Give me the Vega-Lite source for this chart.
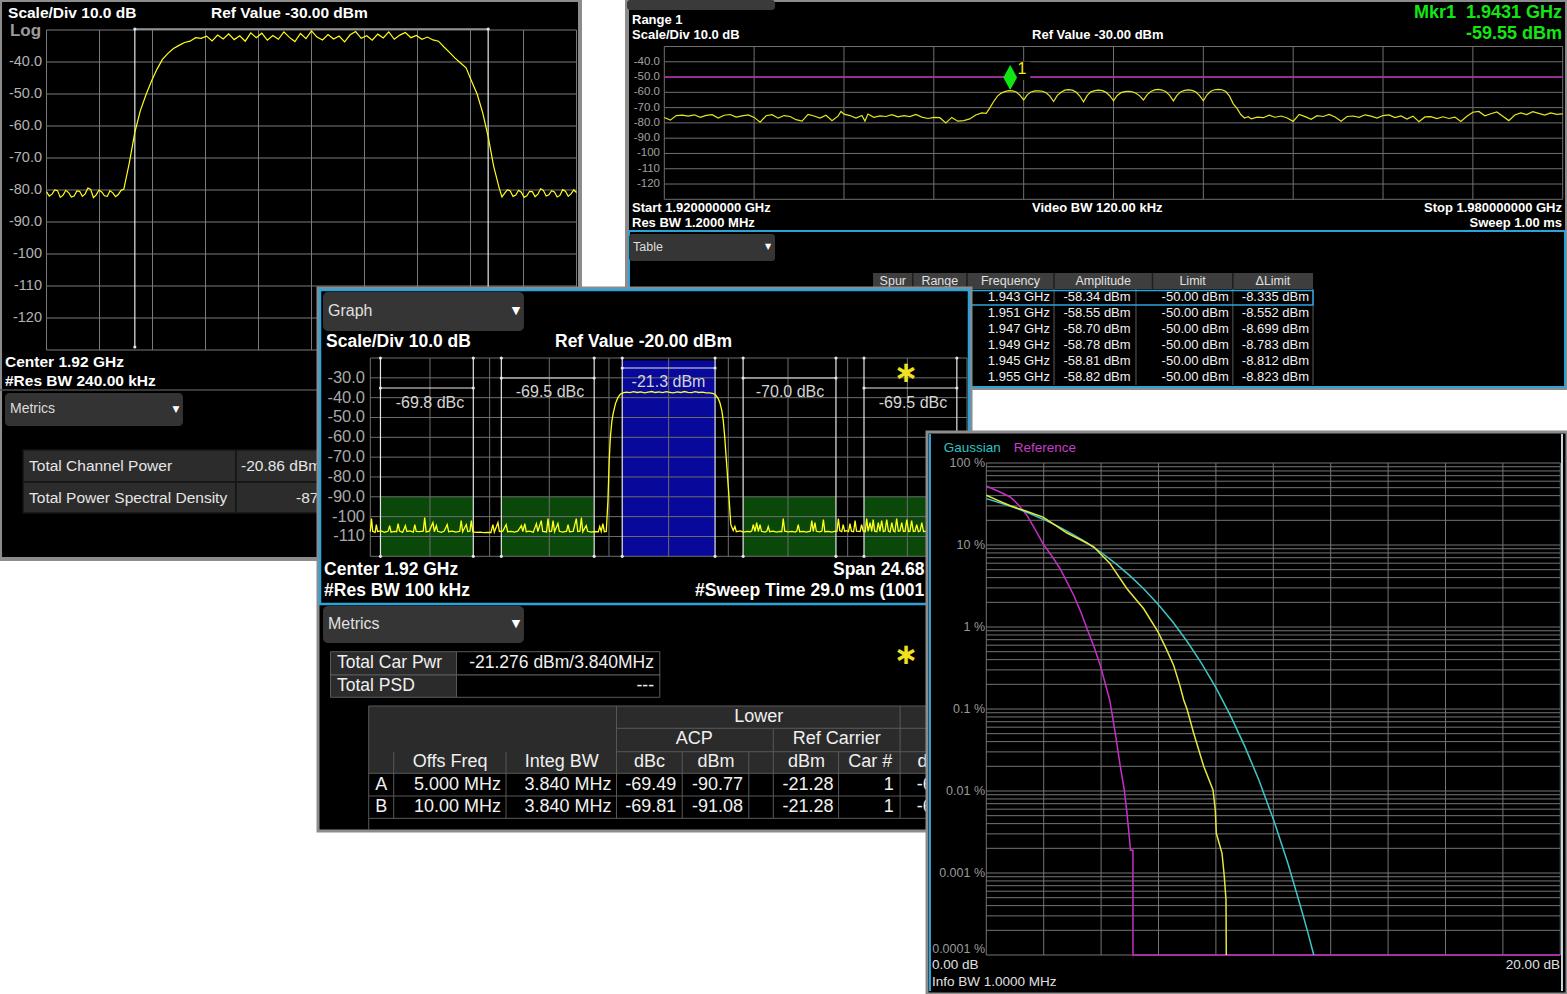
{
"$schema": "https://vega.github.io/schema/vega-lite/v6.json",
"width": 1567, "height": 994, "autosize": "none", "padding": 0,
"background": "#ffffff",
"config": {"view": {"stroke": null}, "text": {"font": "Liberation Sans"}},
"resolve": {"scale": {"x": "independent", "y": "independent"}},
"layer": [
{
 "encoding": {
  "x": {"field": "f", "type": "quantitative", "axis": null, "scale": {"domain": [1917.12, 1922.88], "range": [46.5, 576.5], "nice": false, "zero": false}},
  "y": {"field": "v", "type": "quantitative", "axis": null, "scale": {"domain": [-130, -30], "range": [350, 30], "nice": false, "zero": false}}
 },
 "layer": [
  {"data": {"values": [{"f": 1916.615, "f2": 1922.918, "v": -20.625, "v2": -195.3}]}, "mark": {"type": "rect", "fill": "#000000", "stroke": "#8c8c8c", "strokeWidth": 4}, "encoding": {"x2": {"field": "f2"}, "y2": {"field": "v2"}}},
  {"data": {"values": [{"f": 1916.615, "f2": 1920.9, "v": -142.5, "v2": -142.5}]}, "mark": {"type": "rule", "color": "#4d4d4d", "strokeWidth": 1.5}, "encoding": {"x2": {"field": "f2"}, "y2": {"field": "v2"}}},
  {"data": {"values": [
   {"f": 1917.12, "f2": 1922.88, "v": -30, "v2": -30}, {"f": 1917.12, "f2": 1922.88, "v": -40, "v2": -40}, {"f": 1917.12, "f2": 1922.88, "v": -50, "v2": -50}, {"f": 1917.12, "f2": 1922.88, "v": -60, "v2": -60}, {"f": 1917.12, "f2": 1922.88, "v": -70, "v2": -70}, {"f": 1917.12, "f2": 1922.88, "v": -80, "v2": -80}, {"f": 1917.12, "f2": 1922.88, "v": -90, "v2": -90}, {"f": 1917.12, "f2": 1922.88, "v": -100, "v2": -100}, {"f": 1917.12, "f2": 1922.88, "v": -110, "v2": -110}, {"f": 1917.12, "f2": 1922.88, "v": -120, "v2": -120}, {"f": 1917.12, "f2": 1922.88, "v": -130, "v2": -130},
   {"f": 1917.12, "f2": 1917.12, "v": -30, "v2": -130}, {"f": 1917.696, "f2": 1917.696, "v": -30, "v2": -130}, {"f": 1918.272, "f2": 1918.272, "v": -30, "v2": -130}, {"f": 1918.848, "f2": 1918.848, "v": -30, "v2": -130}, {"f": 1919.424, "f2": 1919.424, "v": -30, "v2": -130}, {"f": 1920.0, "f2": 1920.0, "v": -30, "v2": -130}, {"f": 1920.576, "f2": 1920.576, "v": -30, "v2": -130}, {"f": 1921.152, "f2": 1921.152, "v": -30, "v2": -130}, {"f": 1921.728, "f2": 1921.728, "v": -30, "v2": -130}, {"f": 1922.304, "f2": 1922.304, "v": -30, "v2": -130}, {"f": 1922.88, "f2": 1922.88, "v": -30, "v2": -130}
  ]}, "mark": {"type": "rule", "color": "#7a7a7a", "strokeWidth": 1}, "encoding": {"x2": {"field": "f2"}, "y2": {"field": "v2"}}},
  {"data": {"values": [{"f": 1918.08, "f2": 1918.08, "v": -29.69, "v2": -129.06}, {"f": 1921.92, "f2": 1921.92, "v": -29.69, "v2": -129.06}, {"f": 1918.08, "f2": 1921.92, "v": -29.69, "v2": -29.69}]}, "mark": {"type": "rule", "color": "#e8e8e8", "strokeWidth": 1.2}, "encoding": {"x2": {"field": "f2"}, "y2": {"field": "v2"}}},
  {"data": {"values": [{"f": 1918.08, "v": -29.69}, {"f": 1921.92, "v": -29.69}, {"f": 1918.08, "v": -129.06}, {"f": 1921.92, "v": -129.06}]}, "mark": {"type": "point", "filled": true, "size": 10, "color": "#e8e8e8", "opacity": 1}},
  {"data": {"values": [
   {"f": 1917.12, "v": -80.5}, {"f": 1917.15, "v": -81.9}, {"f": 1917.18, "v": -81.3}, {"f": 1917.21, "v": -80.0}, {"f": 1917.24, "v": -80.2}, {"f": 1917.27, "v": -82.3}, {"f": 1917.30, "v": -81.6}, {"f": 1917.33, "v": -80.1}, {"f": 1917.36, "v": -80.8}, {"f": 1917.39, "v": -82.2}, {"f": 1917.42, "v": -81.9}, {"f": 1917.45, "v": -80.3}, {"f": 1917.48, "v": -80.4}, {"f": 1917.51, "v": -82.0}, {"f": 1917.54, "v": -81.2}, {"f": 1917.57, "v": -79.4}, {"f": 1917.60, "v": -79.8}, {"f": 1917.63, "v": -82.4}, {"f": 1917.66, "v": -81.5}, {"f": 1917.69, "v": -80.0}, {"f": 1917.72, "v": -80.6}, {"f": 1917.75, "v": -81.8}, {"f": 1917.78, "v": -82.0}, {"f": 1917.81, "v": -80.2}, {"f": 1917.84, "v": -80.9}, {"f": 1917.87, "v": -82.1}, {"f": 1917.90, "v": -81.4}, {"f": 1917.93, "v": -80.1}, {"f": 1917.96, "v": -79.8}, {"f": 1918.02, "v": -71.5}, {"f": 1918.08, "v": -62.0}, {"f": 1918.14, "v": -55.2}, {"f": 1918.20, "v": -50.3}, {"f": 1918.26, "v": -46.0}, {"f": 1918.32, "v": -42.3}, {"f": 1918.38, "v": -39.2}, {"f": 1918.44, "v": -37.3}, {"f": 1918.50, "v": -35.8}, {"f": 1918.56, "v": -34.8}, {"f": 1918.62, "v": -33.9}, {"f": 1918.68, "v": -33.5}, {"f": 1918.74, "v": -32.4}, {"f": 1918.80, "v": -32.6}, {"f": 1918.86, "v": -31.9}, {"f": 1918.92, "v": -33.4}, {"f": 1918.98, "v": -31.6}, {"f": 1919.04, "v": -32.8}, {"f": 1919.10, "v": -31.2}, {"f": 1919.16, "v": -33.0}, {"f": 1919.22, "v": -31.8}, {"f": 1919.28, "v": -33.5}, {"f": 1919.34, "v": -30.9}, {"f": 1919.40, "v": -32.4}, {"f": 1919.46, "v": -31.0}, {"f": 1919.52, "v": -33.2}, {"f": 1919.58, "v": -31.7}, {"f": 1919.64, "v": -32.9}, {"f": 1919.70, "v": -30.6}, {"f": 1919.76, "v": -32.3}, {"f": 1919.82, "v": -33.6}, {"f": 1919.88, "v": -31.1}, {"f": 1919.94, "v": -32.7}, {"f": 1920.00, "v": -30.3}, {"f": 1920.06, "v": -32.2}, {"f": 1920.12, "v": -33.1}, {"f": 1920.18, "v": -31.4}, {"f": 1920.24, "v": -32.8}, {"f": 1920.30, "v": -31.9}, {"f": 1920.36, "v": -33.7}, {"f": 1920.42, "v": -31.5}, {"f": 1920.48, "v": -30.5}, {"f": 1920.54, "v": -32.6}, {"f": 1920.60, "v": -31.8}, {"f": 1920.66, "v": -33.2}, {"f": 1920.72, "v": -31.3}, {"f": 1920.78, "v": -32.5}, {"f": 1920.84, "v": -30.6}, {"f": 1920.90, "v": -32.9}, {"f": 1920.96, "v": -31.6}, {"f": 1921.02, "v": -30.8}, {"f": 1921.08, "v": -32.4}, {"f": 1921.14, "v": -31.7}, {"f": 1921.20, "v": -32.9}, {"f": 1921.26, "v": -32.2}, {"f": 1921.32, "v": -33.1}, {"f": 1921.38, "v": -33.5}, {"f": 1921.44, "v": -35.3}, {"f": 1921.50, "v": -37.0}, {"f": 1921.56, "v": -38.8}, {"f": 1921.62, "v": -40.3}, {"f": 1921.68, "v": -41.8}, {"f": 1921.74, "v": -46.0}, {"f": 1921.80, "v": -50.0}, {"f": 1921.86, "v": -55.8}, {"f": 1921.92, "v": -63.3}, {"f": 1921.98, "v": -72.6}, {"f": 1922.04, "v": -79.4}, {"f": 1922.07, "v": -82.2}, {"f": 1922.10, "v": -81.0}, {"f": 1922.13, "v": -79.9}, {"f": 1922.16, "v": -80.3}, {"f": 1922.19, "v": -82.0}, {"f": 1922.22, "v": -81.6}, {"f": 1922.25, "v": -80.1}, {"f": 1922.28, "v": -80.7}, {"f": 1922.31, "v": -82.3}, {"f": 1922.34, "v": -81.8}, {"f": 1922.37, "v": -80.4}, {"f": 1922.40, "v": -80.5}, {"f": 1922.43, "v": -82.1}, {"f": 1922.46, "v": -81.3}, {"f": 1922.49, "v": -79.6}, {"f": 1922.52, "v": -80.1}, {"f": 1922.55, "v": -81.9}, {"f": 1922.58, "v": -81.5}, {"f": 1922.61, "v": -80.2}, {"f": 1922.64, "v": -80.6}, {"f": 1922.67, "v": -82.2}, {"f": 1922.70, "v": -81.7}, {"f": 1922.73, "v": -79.9}, {"f": 1922.76, "v": -80.4}, {"f": 1922.79, "v": -82.0}, {"f": 1922.82, "v": -81.2}, {"f": 1922.85, "v": -80.0}, {"f": 1922.88, "v": -80.8}
  ]}, "mark": {"type": "line", "color": "#ffff1a", "strokeWidth": 1.2}},
  {"data": {"values": [{"f": 1917.071, "v": -40, "t": "-40.0"}, {"f": 1917.071, "v": -50, "t": "-50.0"}, {"f": 1917.071, "v": -60, "t": "-60.0"}, {"f": 1917.071, "v": -70, "t": "-70.0"}, {"f": 1917.071, "v": -80, "t": "-80.0"}, {"f": 1917.071, "v": -90, "t": "-90.0"}, {"f": 1917.071, "v": -100, "t": "-100"}, {"f": 1917.071, "v": -110, "t": "-110"}, {"f": 1917.071, "v": -120, "t": "-120"}]}, "mark": {"type": "text", "align": "right", "baseline": "middle", "fontSize": 14.5, "fill": "#b4b4b4"}, "encoding": {"text": {"field": "t"}}},
  {"data": {"values": [{"f": 1916.723, "v": -30.31, "t": "Log"}]}, "mark": {"type": "text", "align": "left", "baseline": "middle", "fontSize": 17, "fontWeight": "bold", "fill": "#9c9c9c"}, "encoding": {"text": {"field": "t"}}},
  {"data": {"values": [{"f": 1916.702, "v": -24.69, "t": "Scale/Div 10.0 dB"}, {"f": 1918.908, "v": -24.69, "t": "Ref Value -30.00 dBm"}, {"f": 1916.669, "v": -133.75, "t": "Center 1.92 GHz"}, {"f": 1916.669, "v": -139.69, "t": "#Res BW 240.00 kHz"}]}, "mark": {"type": "text", "align": "left", "baseline": "middle", "fontSize": 15.5, "fontWeight": "bold", "fill": "#ffffff"}, "encoding": {"text": {"field": "t"}}},
  {"data": {"values": [{"f": 1916.669, "f2": 1918.603, "v": -143.44, "v2": -153.75}]}, "mark": {"type": "rect", "fill": "#333333", "cornerRadius": 4}, "encoding": {"x2": {"field": "f2"}, "y2": {"field": "v2"}}},
  {"data": {"values": [{"f": 1916.865, "f2": 1919.179, "v": -161.25, "v2": -171.25}, {"f": 1919.179, "f2": 1920.962, "v": -161.25, "v2": -171.25}, {"f": 1916.865, "f2": 1919.179, "v": -171.25, "v2": -180.94}, {"f": 1919.179, "f2": 1920.962, "v": -171.25, "v2": -180.94}]}, "mark": {"type": "rect", "fill": "#2c2c2c", "stroke": "#141414", "strokeWidth": 1.5}, "encoding": {"x2": {"field": "f2"}, "y2": {"field": "v2"}}},
  {"data": {"values": [{"f": 1916.723, "v": -148.44, "t": "Metrics"}]}, "mark": {"type": "text", "align": "left", "baseline": "middle", "fontSize": 14, "fill": "#dcdcdc"}, "encoding": {"text": {"field": "t"}}},
  {"data": {"values": [{"f": 1918.527, "v": -148.44, "t": "▼"}]}, "mark": {"type": "text", "align": "center", "baseline": "middle", "fontSize": 9, "font": "DejaVu Sans", "fill": "#ffffff"}, "encoding": {"text": {"field": "t"}}},
  {"data": {"values": [{"f": 1916.93, "v": -166.25, "t": "Total Channel Power"}, {"f": 1916.93, "v": -176.25, "t": "Total Power Spectral Density"}, {"f": 1919.234, "v": -166.25, "t": "-20.86 dBm"}, {"f": 1919.832, "v": -176.25, "t": "-87"}]}, "mark": {"type": "text", "align": "left", "baseline": "middle", "fontSize": 15.5, "fill": "#e6e6e6"}, "encoding": {"text": {"field": "t"}}}
 ]
},
{
 "encoding": {
  "x": {"field": "f", "type": "quantitative", "axis": null, "scale": {"domain": [1920, 1980], "range": [664.3, 1562.7], "nice": false, "zero": false}},
  "y": {"field": "v", "type": "quantitative", "axis": null, "scale": {"domain": [-130, -30], "range": [199.3, 46.5], "nice": false, "zero": false}}
 },
 "layer": [
  {"data": {"values": [{"f": 1917.509, "f2": 1980.289, "v": 0.432, "v2": -253.5}]}, "mark": {"type": "rect", "fill": "#000000", "stroke": "#8c8c8c", "strokeWidth": 4}, "encoding": {"x2": {"field": "f2"}, "y2": {"field": "v2"}}},
  {"data": {"values": [{"f": 1917.509, "f2": 1927.394, "v": 0.432, "v2": -6.113}]}, "mark": {"type": "rect", "fill": "#3a3a3a", "cornerRadius": 3}, "encoding": {"x2": {"field": "f2"}, "y2": {"field": "v2"}}},
  {"data": {"values": [
   {"f": 1920, "f2": 1980, "v": -30, "v2": -30}, {"f": 1920, "f2": 1980, "v": -40, "v2": -40}, {"f": 1920, "f2": 1980, "v": -50, "v2": -50}, {"f": 1920, "f2": 1980, "v": -60, "v2": -60}, {"f": 1920, "f2": 1980, "v": -70, "v2": -70}, {"f": 1920, "f2": 1980, "v": -80, "v2": -80}, {"f": 1920, "f2": 1980, "v": -90, "v2": -90}, {"f": 1920, "f2": 1980, "v": -100, "v2": -100}, {"f": 1920, "f2": 1980, "v": -110, "v2": -110}, {"f": 1920, "f2": 1980, "v": -120, "v2": -120}, {"f": 1920, "f2": 1980, "v": -130, "v2": -130},
   {"f": 1920, "f2": 1920, "v": -30, "v2": -130}, {"f": 1926, "f2": 1926, "v": -30, "v2": -130}, {"f": 1932, "f2": 1932, "v": -30, "v2": -130}, {"f": 1938, "f2": 1938, "v": -30, "v2": -130}, {"f": 1944, "f2": 1944, "v": -30, "v2": -130}, {"f": 1950, "f2": 1950, "v": -30, "v2": -130}, {"f": 1956, "f2": 1956, "v": -30, "v2": -130}, {"f": 1962, "f2": 1962, "v": -30, "v2": -130}, {"f": 1968, "f2": 1968, "v": -30, "v2": -130}, {"f": 1974, "f2": 1974, "v": -30, "v2": -130}, {"f": 1980, "f2": 1980, "v": -30, "v2": -130}
  ]}, "mark": {"type": "rule", "color": "#707070", "strokeWidth": 1}, "encoding": {"x2": {"field": "f2"}, "y2": {"field": "v2"}}},
  {"data": {"values": [{"f": 1920, "f2": 1980, "v": -50, "v2": -50}]}, "mark": {"type": "rule", "color": "#b42db4", "strokeWidth": 1.5}, "encoding": {"x2": {"field": "f2"}, "y2": {"field": "v2"}}},
  {"data": {"values": [
   {"f": 1920.0, "v": -76.5}, {"f": 1920.4, "v": -78.2}, {"f": 1920.8, "v": -75.2}, {"f": 1921.2, "v": -74.9}, {"f": 1921.6, "v": -75.6}, {"f": 1922.0, "v": -74.7}, {"f": 1922.4, "v": -76.3}, {"f": 1922.8, "v": -75.1}, {"f": 1923.2, "v": -74.6}, {"f": 1923.6, "v": -76.8}, {"f": 1924.0, "v": -75.0}, {"f": 1924.4, "v": -74.5}, {"f": 1924.8, "v": -76.2}, {"f": 1925.2, "v": -75.4}, {"f": 1925.6, "v": -74.8}, {"f": 1926.0, "v": -76.4}, {"f": 1926.4, "v": -79.5}, {"f": 1926.8, "v": -75.3}, {"f": 1927.2, "v": -74.6}, {"f": 1927.6, "v": -76.9}, {"f": 1928.0, "v": -75.2}, {"f": 1928.4, "v": -75.8}, {"f": 1928.8, "v": -77.9}, {"f": 1929.2, "v": -78.8}, {"f": 1929.6, "v": -74.4}, {"f": 1930.0, "v": -75.5}, {"f": 1930.4, "v": -76.8}, {"f": 1930.8, "v": -75.0}, {"f": 1931.2, "v": -78.6}, {"f": 1931.6, "v": -75.6}, {"f": 1931.8, "v": -72.5}, {"f": 1932.0, "v": -74.3}, {"f": 1932.4, "v": -75.2}, {"f": 1932.8, "v": -76.9}, {"f": 1933.2, "v": -75.1}, {"f": 1933.4, "v": -78.8}, {"f": 1933.6, "v": -74.2}, {"f": 1934.0, "v": -76.3}, {"f": 1934.4, "v": -75.4}, {"f": 1934.8, "v": -75.8}, {"f": 1935.2, "v": -74.6}, {"f": 1935.6, "v": -76.0}, {"f": 1936.0, "v": -75.3}, {"f": 1936.4, "v": -75.9}, {"f": 1936.8, "v": -74.5}, {"f": 1937.2, "v": -76.2}, {"f": 1937.6, "v": -77.1}, {"f": 1938.0, "v": -76.4}, {"f": 1938.4, "v": -76.6}, {"f": 1938.8, "v": -80.0}, {"f": 1939.2, "v": -76.4}, {"f": 1939.6, "v": -78.9}, {"f": 1940.0, "v": -78.5}, {"f": 1940.4, "v": -77.4}, {"f": 1940.8, "v": -74.8}, {"f": 1941.2, "v": -73.5}, {"f": 1941.5, "v": -73.8},
   {"f": 1941.75, "v": -70.0}, {"f": 1942.0, "v": -66.0}, {"f": 1942.25, "v": -62.5}, {"f": 1942.5, "v": -60.5}, {"f": 1942.75, "v": -59.5}, {"f": 1943.0, "v": -58.9}, {"f": 1943.25, "v": -59.0}, {"f": 1943.5, "v": -59.8}, {"f": 1943.75, "v": -61.8}, {"f": 1944.0, "v": -65.0}, {"f": 1944.25, "v": -61.5}, {"f": 1944.5, "v": -59.8}, {"f": 1944.75, "v": -59.1}, {"f": 1945.0, "v": -59.0}, {"f": 1945.25, "v": -59.3}, {"f": 1945.5, "v": -60.3}, {"f": 1945.75, "v": -62.5}, {"f": 1946.0, "v": -66.0}, {"f": 1946.25, "v": -62.0}, {"f": 1946.5, "v": -59.9}, {"f": 1946.75, "v": -58.6}, {"f": 1947.0, "v": -58.2}, {"f": 1947.25, "v": -58.6}, {"f": 1947.5, "v": -59.8}, {"f": 1947.75, "v": -62.4}, {"f": 1948.0, "v": -66.2}, {"f": 1948.25, "v": -62.0}, {"f": 1948.5, "v": -59.7}, {"f": 1948.75, "v": -58.9}, {"f": 1949.0, "v": -58.6}, {"f": 1949.25, "v": -58.9}, {"f": 1949.5, "v": -60.0}, {"f": 1949.75, "v": -62.2}, {"f": 1950.0, "v": -65.5}, {"f": 1950.25, "v": -62.0}, {"f": 1950.5, "v": -60.2}, {"f": 1950.75, "v": -59.5}, {"f": 1951.0, "v": -59.3}, {"f": 1951.25, "v": -59.6}, {"f": 1951.5, "v": -60.6}, {"f": 1951.75, "v": -62.3}, {"f": 1952.0, "v": -65.0}, {"f": 1952.25, "v": -61.5}, {"f": 1952.5, "v": -59.5}, {"f": 1952.75, "v": -58.4}, {"f": 1953.0, "v": -58.1}, {"f": 1953.25, "v": -58.5}, {"f": 1953.5, "v": -59.6}, {"f": 1953.75, "v": -62.0}, {"f": 1954.0, "v": -65.6}, {"f": 1954.25, "v": -61.8}, {"f": 1954.5, "v": -59.6}, {"f": 1954.75, "v": -58.7}, {"f": 1955.0, "v": -58.4}, {"f": 1955.25, "v": -58.7}, {"f": 1955.5, "v": -59.8}, {"f": 1955.75, "v": -62.1}, {"f": 1956.0, "v": -65.5}, {"f": 1956.25, "v": -61.6}, {"f": 1956.5, "v": -59.3}, {"f": 1956.75, "v": -58.3}, {"f": 1957.0, "v": -58.0}, {"f": 1957.25, "v": -58.3}, {"f": 1957.5, "v": -59.5}, {"f": 1957.75, "v": -62.5}, {"f": 1958.0, "v": -67.5}, {"f": 1958.25, "v": -70.5}, {"f": 1958.5, "v": -74.5}, {"f": 1958.75, "v": -76.8}, {"f": 1959.0, "v": -76.0},
   {"f": 1959.2, "v": -77.4}, {"f": 1959.6, "v": -76.2}, {"f": 1960.0, "v": -76.6}, {"f": 1960.4, "v": -75.0}, {"f": 1960.8, "v": -76.3}, {"f": 1961.2, "v": -75.5}, {"f": 1961.6, "v": -76.8}, {"f": 1962.0, "v": -79.0}, {"f": 1962.4, "v": -74.4}, {"f": 1962.8, "v": -75.9}, {"f": 1963.2, "v": -77.6}, {"f": 1963.6, "v": -75.3}, {"f": 1964.0, "v": -75.8}, {"f": 1964.4, "v": -74.5}, {"f": 1964.8, "v": -76.1}, {"f": 1965.2, "v": -78.9}, {"f": 1965.6, "v": -75.8}, {"f": 1966.0, "v": -75.5}, {"f": 1966.4, "v": -76.4}, {"f": 1966.8, "v": -74.7}, {"f": 1967.2, "v": -75.6}, {"f": 1967.6, "v": -76.9}, {"f": 1968.0, "v": -75.2}, {"f": 1968.4, "v": -74.8}, {"f": 1968.8, "v": -76.5}, {"f": 1969.2, "v": -75.4}, {"f": 1969.6, "v": -77.5}, {"f": 1970.0, "v": -75.6}, {"f": 1970.4, "v": -79.2}, {"f": 1970.8, "v": -76.1}, {"f": 1971.2, "v": -75.9}, {"f": 1971.6, "v": -77.2}, {"f": 1972.0, "v": -76.0}, {"f": 1972.4, "v": -77.1}, {"f": 1972.8, "v": -76.2}, {"f": 1973.2, "v": -79.0}, {"f": 1973.6, "v": -75.7}, {"f": 1974.0, "v": -73.0}, {"f": 1974.4, "v": -72.5}, {"f": 1974.8, "v": -75.3}, {"f": 1975.2, "v": -74.0}, {"f": 1975.6, "v": -72.8}, {"f": 1976.0, "v": -75.7}, {"f": 1976.4, "v": -78.5}, {"f": 1976.8, "v": -74.8}, {"f": 1977.2, "v": -73.5}, {"f": 1977.6, "v": -74.6}, {"f": 1978.0, "v": -72.6}, {"f": 1978.4, "v": -73.8}, {"f": 1978.8, "v": -74.9}, {"f": 1979.2, "v": -73.4}, {"f": 1979.6, "v": -74.4}, {"f": 1980.0, "v": -74.1}
  ]}, "mark": {"type": "line", "color": "#e6e61e", "strokeWidth": 1.2}},
  {"data": {"values": [{"f": 1943.44, "f2": 1944.44, "v": -39.95, "v2": -51.92}]}, "mark": {"type": "rect", "fill": "#000000"}, "encoding": {"x2": {"field": "f2"}, "y2": {"field": "v2"}}},
  {"data": {"values": [{"f": 1943.1, "v": -50.3}]}, "mark": {"type": "point", "shape": "M0,-1L0.55,0L0,1L-0.55,0Z", "size": 625, "filled": true, "color": "#12e612", "opacity": 1}},
  {"data": {"values": [{"f": 1943.89, "v": -44.73, "t": "1"}]}, "mark": {"type": "text", "align": "center", "baseline": "middle", "fontSize": 16, "fill": "#f0f000"}, "encoding": {"text": {"field": "t"}}},
  {"data": {"values": [{"f": 1917.843, "v": -12.657, "t": "Range 1"}, {"f": 1917.843, "v": -22.474, "t": "Scale/Div 10.0 dB"}, {"f": 1944.558, "v": -22.474, "t": "Ref Value -30.00 dBm"}, {"f": 1917.843, "v": -135.694, "t": "Start 1.920000000 GHz"}, {"f": 1917.843, "v": -145.51, "t": "Res BW 1.2000 MHz"}, {"f": 1944.558, "v": -135.694, "t": "Video BW 120.00 kHz"}]}, "mark": {"type": "text", "align": "left", "baseline": "middle", "fontSize": 13, "fontWeight": "bold", "fill": "#ffffff"}, "encoding": {"text": {"field": "t"}}},
  {"data": {"values": [{"f": 1979.955, "v": -135.694, "t": "Stop 1.980000000 GHz"}, {"f": 1979.955, "v": -145.51, "t": "Sweep 1.00 ms"}]}, "mark": {"type": "text", "align": "right", "baseline": "middle", "fontSize": 13, "fontWeight": "bold", "fill": "#ffffff"}, "encoding": {"text": {"field": "t"}}},
  {"data": {"values": [{"f": 1979.955, "v": -8.076, "t": "Mkr1\u00a0\u00a01.9431 GHz"}, {"f": 1979.955, "v": -21.819, "t": "-59.55 dBm"}]}, "mark": {"type": "text", "align": "right", "baseline": "middle", "fontSize": 18, "fontWeight": "bold", "fill": "#14e614"}, "encoding": {"text": {"field": "t"}}},
  {"data": {"values": [{"f": 1919.713, "v": -40, "t": "-40.0"}, {"f": 1919.713, "v": -50, "t": "-50.0"}, {"f": 1919.713, "v": -60, "t": "-60.0"}, {"f": 1919.713, "v": -70, "t": "-70.0"}, {"f": 1919.713, "v": -80, "t": "-80.0"}, {"f": 1919.713, "v": -90, "t": "-90.0"}, {"f": 1919.713, "v": -100, "t": "-100"}, {"f": 1919.713, "v": -110, "t": "-110"}, {"f": 1919.713, "v": -120, "t": "-120"}]}, "mark": {"type": "text", "align": "right", "baseline": "middle", "fontSize": 11.5, "fill": "#a0a0a0"}, "encoding": {"text": {"field": "t"}}},
  {"data": {"values": [{"f": 1917.642, "f2": 1980.155, "v": -150.746, "v2": -252.84}]}, "mark": {"type": "rect", "fillOpacity": 0, "stroke": "#2ba4dc", "strokeWidth": 2}, "encoding": {"x2": {"field": "f2"}, "y2": {"field": "v2"}}},
  {"data": {"values": [{"f": 1917.642, "f2": 1927.394, "v": -152.709, "v2": -170.38}]}, "mark": {"type": "rect", "fill": "#353535", "cornerRadius": 3}, "encoding": {"x2": {"field": "f2"}, "y2": {"field": "v2"}}},
  {"data": {"values": [{"f": 1917.91, "v": -161.217, "t": "Table"}]}, "mark": {"type": "text", "align": "left", "baseline": "middle", "fontSize": 12.5, "fill": "#dcdcdc"}, "encoding": {"text": {"field": "t"}}},
  {"data": {"values": [{"f": 1926.926, "v": -161.217, "t": "▼"}]}, "mark": {"type": "text", "align": "center", "baseline": "middle", "fontSize": 8, "font": "DejaVu Sans", "fill": "#ffffff"}, "encoding": {"text": {"field": "t"}}},
  {"data": {"values": [{"f": 1933.939, "f2": 1963.325, "v": -178.233, "v2": -188.704}]}, "mark": {"type": "rect", "fill": "#3e3e3e"}, "encoding": {"x2": {"field": "f2"}, "y2": {"field": "v2"}}},
  {"data": {"values": [{"f": 1936.59, "f2": 1936.59, "v": -178.233, "v2": -188.704}, {"f": 1940.217, "f2": 1940.217, "v": -178.233, "v2": -188.704}, {"f": 1946.027, "f2": 1946.027, "v": -178.233, "v2": -188.704}, {"f": 1952.605, "f2": 1952.605, "v": -178.233, "v2": -188.704}, {"f": 1957.968, "f2": 1957.968, "v": -178.233, "v2": -188.704}]}, "mark": {"type": "rule", "color": "#1e1e1e", "strokeWidth": 1.5}, "encoding": {"x2": {"field": "f2"}, "y2": {"field": "v2"}}},
  {"data": {"values": [{"f": 1946.027, "f2": 1946.027, "v": -188.704, "v2": -251.53}, {"f": 1951.5, "f2": 1951.5, "v": -188.704, "v2": -251.53}, {"f": 1957.968, "f2": 1957.968, "v": -188.704, "v2": -251.53}, {"f": 1963.325, "f2": 1963.325, "v": -188.704, "v2": -251.53}]}, "mark": {"type": "rule", "color": "#3c3c3c", "strokeWidth": 1.5}, "encoding": {"x2": {"field": "f2"}, "y2": {"field": "v2"}}},
  {"data": {"values": [{"f": 1933.939, "f2": 1963.325, "v": -189.686, "v2": -199.18}]}, "mark": {"type": "rect", "fillOpacity": 0, "stroke": "#2ba4dc", "strokeWidth": 1.5}, "encoding": {"x2": {"field": "f2"}, "y2": {"field": "v2"}}},
  {"data": {"values": [{"f": 1935.26, "v": -183.469, "t": "Spur"}, {"f": 1938.4, "v": -183.469, "t": "Range"}, {"f": 1943.122, "v": -183.469, "t": "Frequency"}, {"f": 1949.313, "v": -183.469, "t": "Amplitude"}, {"f": 1955.283, "v": -183.469, "t": "Limit"}, {"f": 1960.646, "v": -183.469, "t": "ΔLimit"}]}, "mark": {"type": "text", "align": "center", "baseline": "middle", "fontSize": 12.5, "fill": "#e0e0e0"}, "encoding": {"text": {"field": "t"}}},
  {"data": {"values": [
   {"f": 1945.76, "v": -193.94, "t": "1.943 GHz"}, {"f": 1951.143, "v": -193.94, "t": "-58.34 dBm"}, {"f": 1957.7, "v": -193.94, "t": "-50.00 dBm"}, {"f": 1963.057, "v": -193.94, "t": "-8.335 dBm"},
   {"f": 1945.76, "v": -204.41, "t": "1.951 GHz"}, {"f": 1951.143, "v": -204.41, "t": "-58.55 dBm"}, {"f": 1957.7, "v": -204.41, "t": "-50.00 dBm"}, {"f": 1963.057, "v": -204.41, "t": "-8.552 dBm"},
   {"f": 1945.76, "v": -214.88, "t": "1.947 GHz"}, {"f": 1951.143, "v": -214.88, "t": "-58.70 dBm"}, {"f": 1957.7, "v": -214.88, "t": "-50.00 dBm"}, {"f": 1963.057, "v": -214.88, "t": "-8.699 dBm"},
   {"f": 1945.76, "v": -225.35, "t": "1.949 GHz"}, {"f": 1951.143, "v": -225.35, "t": "-58.78 dBm"}, {"f": 1957.7, "v": -225.35, "t": "-50.00 dBm"}, {"f": 1963.057, "v": -225.35, "t": "-8.783 dBm"},
   {"f": 1945.76, "v": -235.82, "t": "1.945 GHz"}, {"f": 1951.143, "v": -235.82, "t": "-58.81 dBm"}, {"f": 1957.7, "v": -235.82, "t": "-50.00 dBm"}, {"f": 1963.057, "v": -235.82, "t": "-8.812 dBm"},
   {"f": 1945.76, "v": -246.3, "t": "1.955 GHz"}, {"f": 1951.143, "v": -246.3, "t": "-58.82 dBm"}, {"f": 1957.7, "v": -246.3, "t": "-50.00 dBm"}, {"f": 1963.057, "v": -246.3, "t": "-8.823 dBm"}
  ]}, "mark": {"type": "text", "align": "right", "baseline": "middle", "fontSize": 13, "fill": "#f0f0f0"}, "encoding": {"text": {"field": "t"}}}
 ]
},
{
 "encoding": {
  "x": {"field": "f", "type": "quantitative", "axis": null, "scale": {"domain": [1907.66, 1932.34], "range": [370.3, 967], "nice": false, "zero": false}},
  "y": {"field": "v", "type": "quantitative", "axis": null, "scale": {"domain": [-120, -20], "range": [556.3, 358], "nice": false, "zero": false}}
 },
 "layer": [
  {"data": {"values": [{"f": 1905.497, "f2": 1932.506, "v": 15.3, "v2": -258.53}]}, "mark": {"type": "rect", "fill": "#000000", "stroke": "#8c8c8c", "strokeWidth": 3}, "encoding": {"x2": {"field": "f2"}, "y2": {"field": "v2"}}},
  {"data": {"values": [{"f": 1905.58, "f2": 1932.423, "v": 14.29, "v2": -144.06}]}, "mark": {"type": "rect", "fillOpacity": 0, "stroke": "#2ba4dc", "strokeWidth": 2.5}, "encoding": {"x2": {"field": "f2"}, "y2": {"field": "v2"}}},
  {"data": {"values": [{"f": 1905.704, "f2": 1914.017, "v": 13.28, "v2": -6.384}, {"f": 1905.704, "f2": 1914.017, "v": -145.06, "v2": -163.72}]}, "mark": {"type": "rect", "fill": "#353535", "cornerRadius": 5}, "encoding": {"x2": {"field": "f2"}, "y2": {"field": "v2"}}},
  {"data": {"values": [{"f": 1908.08, "f2": 1911.92, "v": -90, "v2": -120}, {"f": 1913.08, "f2": 1916.92, "v": -90, "v2": -120}, {"f": 1923.08, "f2": 1926.92, "v": -90, "v2": -120}, {"f": 1928.08, "f2": 1931.92, "v": -90, "v2": -120}]}, "mark": {"type": "rect", "fill": "#0a480a"}, "encoding": {"x2": {"field": "f2"}, "y2": {"field": "v2"}}},
  {"data": {"values": [{"f": 1918.08, "f2": 1921.92, "v": -21.26, "v2": -120}]}, "mark": {"type": "rect", "fill": "#08089a"}, "encoding": {"x2": {"field": "f2"}, "y2": {"field": "v2"}}},
  {"data": {"values": [
   {"f": 1907.66, "f2": 1932.34, "v": -20, "v2": -20}, {"f": 1907.66, "f2": 1932.34, "v": -30, "v2": -30}, {"f": 1907.66, "f2": 1932.34, "v": -40, "v2": -40}, {"f": 1907.66, "f2": 1932.34, "v": -50, "v2": -50}, {"f": 1907.66, "f2": 1932.34, "v": -60, "v2": -60}, {"f": 1907.66, "f2": 1932.34, "v": -70, "v2": -70}, {"f": 1907.66, "f2": 1932.34, "v": -80, "v2": -80}, {"f": 1907.66, "f2": 1932.34, "v": -90, "v2": -90}, {"f": 1907.66, "f2": 1932.34, "v": -100, "v2": -100}, {"f": 1907.66, "f2": 1932.34, "v": -110, "v2": -110}, {"f": 1907.66, "f2": 1932.34, "v": -120, "v2": -120},
   {"f": 1907.66, "f2": 1907.66, "v": -20, "v2": -120}, {"f": 1910.128, "f2": 1910.128, "v": -20, "v2": -120}, {"f": 1912.596, "f2": 1912.596, "v": -20, "v2": -120}, {"f": 1915.064, "f2": 1915.064, "v": -20, "v2": -120}, {"f": 1917.532, "f2": 1917.532, "v": -20, "v2": -120}, {"f": 1920.0, "f2": 1920.0, "v": -20, "v2": -120}, {"f": 1922.468, "f2": 1922.468, "v": -20, "v2": -120}, {"f": 1924.936, "f2": 1924.936, "v": -20, "v2": -120}, {"f": 1927.404, "f2": 1927.404, "v": -20, "v2": -120}, {"f": 1929.872, "f2": 1929.872, "v": -20, "v2": -120}, {"f": 1932.34, "f2": 1932.34, "v": -20, "v2": -120}
  ]}, "mark": {"type": "rule", "color": "#6e6e6e", "strokeWidth": 1}, "encoding": {"x2": {"field": "f2"}, "y2": {"field": "v2"}}},
  {"data": {"values": [
   {"f": 1908.08, "f2": 1908.08, "v": -20, "v2": -120}, {"f": 1911.92, "f2": 1911.92, "v": -20, "v2": -120}, {"f": 1913.08, "f2": 1913.08, "v": -20, "v2": -120}, {"f": 1916.92, "f2": 1916.92, "v": -20, "v2": -120}, {"f": 1918.08, "f2": 1918.08, "v": -20, "v2": -120}, {"f": 1921.92, "f2": 1921.92, "v": -20, "v2": -120}, {"f": 1923.08, "f2": 1923.08, "v": -20, "v2": -120}, {"f": 1926.92, "f2": 1926.92, "v": -20, "v2": -120}, {"f": 1928.08, "f2": 1928.08, "v": -20, "v2": -120}, {"f": 1931.92, "f2": 1931.92, "v": -20, "v2": -120},
   {"f": 1908.08, "f2": 1911.92, "v": -35.13, "v2": -35.13}, {"f": 1913.08, "f2": 1916.92, "v": -30.09, "v2": -30.09}, {"f": 1918.08, "f2": 1921.92, "v": -25.04, "v2": -25.04}, {"f": 1923.08, "f2": 1926.92, "v": -30.09, "v2": -30.09}, {"f": 1928.08, "f2": 1931.92, "v": -35.13, "v2": -35.13}
  ]}, "mark": {"type": "rule", "color": "#e6e6e6", "strokeWidth": 1.2}, "encoding": {"x2": {"field": "f2"}, "y2": {"field": "v2"}}},
  {"data": {"values": [
   {"f": 1908.08, "v": -20}, {"f": 1911.92, "v": -20}, {"f": 1913.08, "v": -20}, {"f": 1916.92, "v": -20}, {"f": 1918.08, "v": -20}, {"f": 1921.92, "v": -20}, {"f": 1923.08, "v": -20}, {"f": 1926.92, "v": -20}, {"f": 1928.08, "v": -20}, {"f": 1931.92, "v": -20},
   {"f": 1908.08, "v": -120}, {"f": 1911.92, "v": -120}, {"f": 1913.08, "v": -120}, {"f": 1916.92, "v": -120}, {"f": 1918.08, "v": -120}, {"f": 1921.92, "v": -120}, {"f": 1923.08, "v": -120}, {"f": 1926.92, "v": -120}, {"f": 1928.08, "v": -120}, {"f": 1931.92, "v": -120},
   {"f": 1908.08, "v": -35.13}, {"f": 1911.92, "v": -35.13}, {"f": 1913.08, "v": -30.09}, {"f": 1916.92, "v": -30.09}, {"f": 1918.08, "v": -25.04}, {"f": 1921.92, "v": -25.04}, {"f": 1923.08, "v": -30.09}, {"f": 1926.92, "v": -30.09}, {"f": 1928.08, "v": -35.13}, {"f": 1931.92, "v": -35.13}
  ]}, "mark": {"type": "point", "filled": true, "size": 10, "color": "#e6e6e6", "opacity": 1}},
  {"data": {"values": [
   {"f": 1907.66, "v": -107.6}, {"f": 1907.71, "v": -101.0}, {"f": 1907.76, "v": -107.4}, {"f": 1907.86, "v": -107.9}, {"f": 1907.91, "v": -104.0}, {"f": 1907.96, "v": -107.5}, {"f": 1908.10, "v": -107.2}, {"f": 1908.25, "v": -107.9}, {"f": 1908.40, "v": -107.3}, {"f": 1908.46, "v": -104.5}, {"f": 1908.52, "v": -107.8}, {"f": 1908.65, "v": -107.4}, {"f": 1908.75, "v": -107.6}, {"f": 1908.81, "v": -103.5}, {"f": 1908.87, "v": -107.3}, {"f": 1909.00, "v": -107.9}, {"f": 1909.11, "v": -104.5}, {"f": 1909.17, "v": -107.5}, {"f": 1909.30, "v": -107.2}, {"f": 1909.44, "v": -107.8}, {"f": 1909.50, "v": -104.0}, {"f": 1909.56, "v": -107.4}, {"f": 1909.70, "v": -107.6}, {"f": 1909.85, "v": -107.3}, {"f": 1909.91, "v": -100.5}, {"f": 1909.97, "v": -107.7}, {"f": 1910.10, "v": -107.3}, {"f": 1910.25, "v": -103.0}, {"f": 1910.31, "v": -107.6}, {"f": 1910.39, "v": -104.5}, {"f": 1910.45, "v": -107.4}, {"f": 1910.60, "v": -107.9}, {"f": 1910.72, "v": -107.3}, {"f": 1910.84, "v": -104.0}, {"f": 1910.90, "v": -107.6}, {"f": 1911.05, "v": -107.3}, {"f": 1911.20, "v": -107.8}, {"f": 1911.36, "v": -107.4}, {"f": 1911.42, "v": -102.0}, {"f": 1911.48, "v": -107.6}, {"f": 1911.63, "v": -104.0}, {"f": 1911.69, "v": -107.5}, {"f": 1911.78, "v": -107.3}, {"f": 1911.84, "v": -102.0}, {"f": 1911.90, "v": -107.7}, {"f": 1912.05, "v": -107.9}, {"f": 1912.20, "v": -107.8}, {"f": 1912.35, "v": -108.1}, {"f": 1912.50, "v": -107.9}, {"f": 1912.65, "v": -108.0}, {"f": 1912.73, "v": -104.0}, {"f": 1912.79, "v": -107.8}, {"f": 1912.94, "v": -103.0}, {"f": 1913.00, "v": -107.5}, {"f": 1913.14, "v": -107.3}, {"f": 1913.28, "v": -104.0}, {"f": 1913.34, "v": -107.6}, {"f": 1913.48, "v": -107.4}, {"f": 1913.62, "v": -107.8}, {"f": 1913.76, "v": -107.3}, {"f": 1913.91, "v": -104.5}, {"f": 1913.97, "v": -107.5}, {"f": 1914.05, "v": -103.5}, {"f": 1914.11, "v": -107.6}, {"f": 1914.25, "v": -107.3}, {"f": 1914.40, "v": -107.8}, {"f": 1914.53, "v": -103.5}, {"f": 1914.59, "v": -107.5}, {"f": 1914.73, "v": -102.0}, {"f": 1914.79, "v": -107.4}, {"f": 1914.95, "v": -107.7}, {"f": 1915.01, "v": -101.0}, {"f": 1915.07, "v": -107.5}, {"f": 1915.16, "v": -107.3}, {"f": 1915.22, "v": -102.0}, {"f": 1915.28, "v": -107.6}, {"f": 1915.42, "v": -103.5}, {"f": 1915.48, "v": -107.4}, {"f": 1915.62, "v": -107.8}, {"f": 1915.78, "v": -107.3}, {"f": 1915.84, "v": -104.0}, {"f": 1915.90, "v": -107.6}, {"f": 1916.05, "v": -107.4}, {"f": 1916.18, "v": -101.0}, {"f": 1916.24, "v": -107.5}, {"f": 1916.33, "v": -107.3}, {"f": 1916.39, "v": -100.5}, {"f": 1916.45, "v": -107.7}, {"f": 1916.59, "v": -104.5}, {"f": 1916.65, "v": -107.4}, {"f": 1916.80, "v": -107.8}, {"f": 1916.95, "v": -107.5}, {"f": 1917.09, "v": -107.7}, {"f": 1917.15, "v": -105.0}, {"f": 1917.21, "v": -107.4}, {"f": 1917.28, "v": -103.5}, {"f": 1917.34, "v": -107.6}, {"f": 1917.42, "v": -107.5},
   {"f": 1917.49, "v": -91.7}, {"f": 1917.54, "v": -72.0}, {"f": 1917.59, "v": -60.0}, {"f": 1917.65, "v": -52.0}, {"f": 1917.70, "v": -48.3}, {"f": 1917.80, "v": -43.0}, {"f": 1917.90, "v": -40.0}, {"f": 1918.00, "v": -38.3}, {"f": 1918.11, "v": -37.6}, {"f": 1918.25, "v": -37.2}, {"f": 1918.40, "v": -37.5}, {"f": 1918.55, "v": -37.0}, {"f": 1918.70, "v": -37.4}, {"f": 1918.85, "v": -37.1}, {"f": 1919.00, "v": -37.6}, {"f": 1919.15, "v": -37.2}, {"f": 1919.30, "v": -36.9}, {"f": 1919.45, "v": -37.4}, {"f": 1919.60, "v": -37.1}, {"f": 1919.75, "v": -37.5}, {"f": 1919.90, "v": -37.0}, {"f": 1920.05, "v": -37.3}, {"f": 1920.20, "v": -37.6}, {"f": 1920.35, "v": -37.1}, {"f": 1920.50, "v": -37.4}, {"f": 1920.65, "v": -36.9}, {"f": 1920.80, "v": -37.3}, {"f": 1920.95, "v": -37.5}, {"f": 1921.10, "v": -37.0}, {"f": 1921.25, "v": -37.4}, {"f": 1921.40, "v": -37.2}, {"f": 1921.55, "v": -37.6}, {"f": 1921.70, "v": -37.6}, {"f": 1921.85, "v": -37.9}, {"f": 1921.95, "v": -38.8}, {"f": 1922.05, "v": -40.5}, {"f": 1922.12, "v": -42.6}, {"f": 1922.20, "v": -46.5}, {"f": 1922.26, "v": -51.7}, {"f": 1922.32, "v": -60.0}, {"f": 1922.37, "v": -68.6}, {"f": 1922.47, "v": -85.5}, {"f": 1922.57, "v": -103.9}, {"f": 1922.67, "v": -107.0},
   {"f": 1922.74, "v": -105.0}, {"f": 1922.80, "v": -107.6}, {"f": 1922.95, "v": -107.2}, {"f": 1923.10, "v": -107.8}, {"f": 1923.25, "v": -107.4}, {"f": 1923.38, "v": -107.6}, {"f": 1923.44, "v": -107.2}, {"f": 1923.50, "v": -104.0}, {"f": 1923.57, "v": -107.5}, {"f": 1923.64, "v": -103.0}, {"f": 1923.71, "v": -107.6}, {"f": 1923.78, "v": -104.0}, {"f": 1923.84, "v": -107.4}, {"f": 1923.98, "v": -107.8}, {"f": 1924.06, "v": -107.4}, {"f": 1924.12, "v": -105.0}, {"f": 1924.18, "v": -107.6}, {"f": 1924.32, "v": -107.3}, {"f": 1924.46, "v": -107.8}, {"f": 1924.60, "v": -107.4}, {"f": 1924.68, "v": -107.6}, {"f": 1924.74, "v": -101.0}, {"f": 1924.80, "v": -107.3}, {"f": 1924.95, "v": -107.7}, {"f": 1925.10, "v": -107.4}, {"f": 1925.24, "v": -107.8}, {"f": 1925.30, "v": -107.3}, {"f": 1925.36, "v": -104.0}, {"f": 1925.42, "v": -107.6}, {"f": 1925.56, "v": -107.4}, {"f": 1925.70, "v": -107.8}, {"f": 1925.86, "v": -107.3}, {"f": 1925.92, "v": -102.0}, {"f": 1925.98, "v": -107.5}, {"f": 1926.05, "v": -103.0}, {"f": 1926.11, "v": -107.4}, {"f": 1926.25, "v": -107.7}, {"f": 1926.34, "v": -107.3}, {"f": 1926.40, "v": -101.5}, {"f": 1926.46, "v": -107.6}, {"f": 1926.60, "v": -107.4}, {"f": 1926.75, "v": -107.8}, {"f": 1926.90, "v": -107.3}, {"f": 1926.96, "v": -107.5}, {"f": 1927.02, "v": -101.0}, {"f": 1927.08, "v": -107.2}, {"f": 1927.16, "v": -107.6}, {"f": 1927.22, "v": -104.0}, {"f": 1927.28, "v": -107.4}, {"f": 1927.36, "v": -107.1}, {"f": 1927.44, "v": -107.5}, {"f": 1927.50, "v": -103.5}, {"f": 1927.56, "v": -107.3}, {"f": 1927.65, "v": -107.6}, {"f": 1927.71, "v": -102.0}, {"f": 1927.77, "v": -107.3}, {"f": 1927.92, "v": -107.5}, {"f": 1927.98, "v": -104.0}, {"f": 1928.04, "v": -107.2}, {"f": 1928.13, "v": -107.6}, {"f": 1928.19, "v": -101.0}, {"f": 1928.25, "v": -107.4}, {"f": 1928.33, "v": -103.0}, {"f": 1928.40, "v": -107.5}, {"f": 1928.46, "v": -101.5}, {"f": 1928.52, "v": -107.3}, {"f": 1928.61, "v": -107.6}, {"f": 1928.67, "v": -103.0}, {"f": 1928.74, "v": -107.4}, {"f": 1928.81, "v": -102.0}, {"f": 1928.88, "v": -107.6}, {"f": 1928.95, "v": -107.3}, {"f": 1929.02, "v": -101.5}, {"f": 1929.09, "v": -107.4}, {"f": 1929.16, "v": -107.7}, {"f": 1929.23, "v": -103.0}, {"f": 1929.30, "v": -107.3}, {"f": 1929.36, "v": -107.6}, {"f": 1929.43, "v": -101.0}, {"f": 1929.50, "v": -107.4}, {"f": 1929.57, "v": -107.2}, {"f": 1929.64, "v": -103.0}, {"f": 1929.71, "v": -107.5}, {"f": 1929.78, "v": -107.3}, {"f": 1929.85, "v": -101.5}, {"f": 1929.92, "v": -107.6}, {"f": 1929.98, "v": -107.4}, {"f": 1930.05, "v": -102.0}, {"f": 1930.12, "v": -107.5}, {"f": 1930.19, "v": -107.3}, {"f": 1930.26, "v": -104.0}, {"f": 1930.33, "v": -107.6}, {"f": 1930.40, "v": -107.3}, {"f": 1930.47, "v": -103.0}, {"f": 1930.54, "v": -107.5}, {"f": 1930.70, "v": -107.3}, {"f": 1930.85, "v": -102.5}, {"f": 1930.92, "v": -107.6}, {"f": 1931.10, "v": -107.4}, {"f": 1931.30, "v": -103.0}, {"f": 1931.37, "v": -107.5}, {"f": 1931.60, "v": -107.3}, {"f": 1931.80, "v": -104.0}, {"f": 1931.87, "v": -107.6}, {"f": 1932.10, "v": -107.4}, {"f": 1932.34, "v": -107.7}
  ]}, "mark": {"type": "line", "color": "#ffff1a", "strokeWidth": 1.3}},
  {"data": {"values": [{"f": 1910.129, "v": -42.69, "t": "-69.8 dBc"}, {"f": 1915.092, "v": -37.15, "t": "-69.5 dBc"}, {"f": 1919.994, "v": -32.1, "t": "-21.3 dBm"}, {"f": 1925.019, "v": -37.15, "t": "-70.0 dBc"}, {"f": 1930.106, "v": -42.69, "t": "-69.5 dBc"}]}, "mark": {"type": "text", "align": "center", "baseline": "middle", "fontSize": 16, "fill": "#d4d4d4"}, "encoding": {"text": {"field": "t"}}},
  {"data": {"values": [{"f": 1907.441, "v": -30, "t": "-30.0"}, {"f": 1907.441, "v": -40, "t": "-40.0"}, {"f": 1907.441, "v": -50, "t": "-50.0"}, {"f": 1907.441, "v": -60, "t": "-60.0"}, {"f": 1907.441, "v": -70, "t": "-70.0"}, {"f": 1907.441, "v": -80, "t": "-80.0"}, {"f": 1907.441, "v": -90, "t": "-90.0"}, {"f": 1907.441, "v": -100, "t": "-100"}, {"f": 1907.441, "v": -110, "t": "-110"}]}, "mark": {"type": "text", "align": "right", "baseline": "middle", "fontSize": 16.5, "fill": "#a8a8a8"}, "encoding": {"text": {"field": "t"}}},
  {"data": {"values": [{"f": 1905.828, "v": -11.93, "t": "Scale/Div 10.0 dB"}, {"f": 1915.299, "v": -11.93, "t": "Ref Value -20.00 dBm"}, {"f": 1905.746, "v": -126.91, "t": "Center 1.92 GHz"}, {"f": 1905.746, "v": -137.5, "t": "#Res BW 100 kHz"}, {"f": 1926.797, "v": -126.91, "t": "Span 24.68 MHz"}, {"f": 1921.09, "v": -137.5, "t": "#Sweep Time 29.0 ms (1001 pts)"}]}, "mark": {"type": "text", "align": "left", "baseline": "middle", "fontSize": 17.5, "fontWeight": "bold", "fill": "#ffffff"}, "encoding": {"text": {"field": "t"}}},
  {"data": {"values": [{"f": 1929.817, "v": -27.56, "t": "∗"}, {"f": 1929.817, "v": -169.77, "t": "∗"}]}, "mark": {"type": "text", "align": "center", "baseline": "middle", "fontSize": 29, "font": "DejaVu Sans", "fontWeight": "bold", "fill": "#f0e020"}, "encoding": {"text": {"field": "t"}}},
  {"data": {"values": [{"f": 1905.911, "v": 3.7, "t": "Graph"}, {"f": 1905.911, "v": -154.14, "t": "Metrics"}]}, "mark": {"type": "text", "align": "left", "baseline": "middle", "fontSize": 16, "fill": "#e0e0e0"}, "encoding": {"text": {"field": "t"}}},
  {"data": {"values": [{"f": 1913.686, "v": 3.7, "t": "▼"}, {"f": 1913.686, "v": -154.14, "t": "▼"}]}, "mark": {"type": "text", "align": "center", "baseline": "middle", "fontSize": 11, "font": "DejaVu Sans", "fill": "#ffffff"}, "encoding": {"text": {"field": "t"}}},
  {"data": {"values": [{"f": 1906.014, "f2": 1911.225, "v": -168.11, "v2": -179.86}, {"f": 1906.014, "f2": 1911.225, "v": -179.86, "v2": -191.11}]}, "mark": {"type": "rect", "fill": "#2b2b2b", "stroke": "#5a5a5a", "strokeWidth": 1}, "encoding": {"x2": {"field": "f2"}, "y2": {"field": "v2"}}},
  {"data": {"values": [{"f": 1911.225, "f2": 1919.634, "v": -168.11, "v2": -179.86}, {"f": 1911.225, "f2": 1919.634, "v": -179.86, "v2": -191.11}]}, "mark": {"type": "rect", "fill": "#000000", "stroke": "#5a5a5a", "strokeWidth": 1}, "encoding": {"x2": {"field": "f2"}, "y2": {"field": "v2"}}},
  {"data": {"values": [{"f": 1906.283, "v": -173.81, "t": "Total Car Pwr"}, {"f": 1906.283, "v": -185.41, "t": "Total PSD"}]}, "mark": {"type": "text", "align": "left", "baseline": "middle", "fontSize": 17.5, "fill": "#f0f0f0"}, "encoding": {"text": {"field": "t"}}},
  {"data": {"values": [{"f": 1919.394, "v": -173.81, "t": "-21.276 dBm/3.840MHz"}, {"f": 1919.394, "v": -185.41, "t": "---"}]}, "mark": {"type": "text", "align": "right", "baseline": "middle", "fontSize": 17.5, "fill": "#f0f0f0"}, "encoding": {"text": {"field": "t"}}},
  {"data": {"values": [{"f": 1907.594, "f2": 1932.298, "v": -195.49, "v2": -229.43}]}, "mark": {"type": "rect", "fill": "#2b2b2b"}, "encoding": {"x2": {"field": "f2"}, "y2": {"field": "v2"}}},
  {"data": {"values": [
   {"f": 1907.594, "f2": 1932.298, "v": -195.49, "v2": -195.49}, {"f": 1917.843, "f2": 1932.298, "v": -206.74, "v2": -206.74}, {"f": 1917.843, "f2": 1932.298, "v": -218.54, "v2": -218.54}, {"f": 1907.594, "f2": 1932.298, "v": -229.43, "v2": -229.43}, {"f": 1907.594, "f2": 1932.298, "v": -240.88, "v2": -240.88}, {"f": 1907.594, "f2": 1932.298, "v": -252.13, "v2": -252.13},
   {"f": 1907.594, "f2": 1907.594, "v": -195.49, "v2": -258.02}, {"f": 1908.628, "f2": 1908.628, "v": -218.54, "v2": -252.13}, {"f": 1913.273, "f2": 1913.273, "v": -218.54, "v2": -252.13}, {"f": 1917.843, "f2": 1917.843, "v": -195.49, "v2": -252.13}, {"f": 1920.56, "f2": 1920.56, "v": -218.54, "v2": -252.13}, {"f": 1923.315, "f2": 1923.315, "v": -218.54, "v2": -252.13}, {"f": 1924.328, "f2": 1924.328, "v": -206.74, "v2": -252.13}, {"f": 1927.029, "f2": 1927.029, "v": -218.54, "v2": -252.13}, {"f": 1929.573, "f2": 1929.573, "v": -195.49, "v2": -252.13}
  ]}, "mark": {"type": "rule", "color": "#595959", "strokeWidth": 1}, "encoding": {"x2": {"field": "f2"}, "y2": {"field": "v2"}}},
  {"data": {"values": [{"f": 1923.724, "v": -201.19, "t": "Lower"}, {"f": 1921.061, "v": -212.13, "t": "ACP"}, {"f": 1926.95, "v": -212.13, "t": "Ref Carrier"}, {"f": 1910.965, "v": -223.88, "t": "Offs Freq"}, {"f": 1915.576, "v": -223.88, "t": "Integ BW"}, {"f": 1919.204, "v": -223.88, "t": "dBc"}, {"f": 1921.958, "v": -223.88, "t": "dBm"}, {"f": 1925.705, "v": -223.88, "t": "dBm"}, {"f": 1928.336, "v": -223.88, "t": "Car #"}, {"f": 1930.933, "v": -223.88, "t": "dBc"}, {"f": 1908.111, "v": -235.08, "t": "A"}, {"f": 1908.111, "v": -246.43, "t": "B"}]}, "mark": {"type": "text", "align": "center", "baseline": "middle", "fontSize": 18, "fill": "#f0f0f0"}, "encoding": {"text": {"field": "t"}}},
  {"data": {"values": [{"f": 1913.066, "v": -235.08, "t": "5.000 MHz"}, {"f": 1913.066, "v": -246.43, "t": "10.00 MHz"}, {"f": 1917.636, "v": -235.08, "t": "3.840 MHz"}, {"f": 1917.636, "v": -246.43, "t": "3.840 MHz"}, {"f": 1920.32, "v": -235.08, "t": "-69.49"}, {"f": 1920.32, "v": -246.43, "t": "-69.81"}, {"f": 1923.075, "v": -235.08, "t": "-90.77"}, {"f": 1923.075, "v": -246.43, "t": "-91.08"}, {"f": 1926.822, "v": -235.08, "t": "-21.28"}, {"f": 1926.822, "v": -246.43, "t": "-21.28"}, {"f": 1929.316, "v": -235.08, "t": "1"}, {"f": 1929.316, "v": -246.43, "t": "1"}]}, "mark": {"type": "text", "align": "right", "baseline": "middle", "fontSize": 18, "fill": "#f0f0f0"}, "encoding": {"text": {"field": "t"}}},
  {"data": {"values": [{"f": 1930.258, "v": -235.08, "t": "-6"}, {"f": 1930.258, "v": -246.43, "t": "-6"}]}, "mark": {"type": "text", "align": "left", "baseline": "middle", "fontSize": 18, "fill": "#f0f0f0"}, "encoding": {"text": {"field": "t"}}}
 ]
},
{
 "encoding": {
  "x": {"field": "f", "type": "quantitative", "axis": null, "scale": {"domain": [0, 20], "range": [986.3, 1560.3], "nice": false, "zero": false}},
  "y": {"field": "v", "type": "quantitative", "axis": null, "scale": {"type": "log", "domain": [0.0001, 100], "range": [955, 463], "nice": false}}
 },
 "layer": [
  {"data": {"values": [{"f": -2.066, "f2": 20.233, "v": 238.8, "v2": 0.0000334}]}, "mark": {"type": "rect", "fill": "#000000", "stroke": "#8c8c8c", "strokeWidth": 3}, "encoding": {"x2": {"field": "f2"}, "y2": {"field": "v2"}}},
  {"data": {"values": [{"f": -1.962, "f2": -1.962, "v": 225.8, "v2": 0.0000364}]}, "mark": {"type": "rule", "color": "#2ba4dc", "strokeWidth": 2}, "encoding": {"x2": {"field": "f2"}, "y2": {"field": "v2"}}},
  {"data": {"values": [{"f": 20.059, "f2": 20.059, "v": 225.8, "v2": 0.0000364}]}, "mark": {"type": "rule", "color": "#c8d4dc", "strokeWidth": 2}, "encoding": {"x2": {"field": "f2"}, "y2": {"field": "v2"}}},
  {"data": {"values": [
   {"f": 0, "f2": 20, "v": 0.0001, "v2": 0.0001}, {"f": 0, "f2": 20, "v": 0.0002, "v2": 0.0002}, {"f": 0, "f2": 20, "v": 0.0003, "v2": 0.0003}, {"f": 0, "f2": 20, "v": 0.0004, "v2": 0.0004}, {"f": 0, "f2": 20, "v": 0.0005, "v2": 0.0005}, {"f": 0, "f2": 20, "v": 0.0006, "v2": 0.0006}, {"f": 0, "f2": 20, "v": 0.0007, "v2": 0.0007}, {"f": 0, "f2": 20, "v": 0.0008, "v2": 0.0008}, {"f": 0, "f2": 20, "v": 0.0009, "v2": 0.0009},
   {"f": 0, "f2": 20, "v": 0.001, "v2": 0.001}, {"f": 0, "f2": 20, "v": 0.002, "v2": 0.002}, {"f": 0, "f2": 20, "v": 0.003, "v2": 0.003}, {"f": 0, "f2": 20, "v": 0.004, "v2": 0.004}, {"f": 0, "f2": 20, "v": 0.005, "v2": 0.005}, {"f": 0, "f2": 20, "v": 0.006, "v2": 0.006}, {"f": 0, "f2": 20, "v": 0.007, "v2": 0.007}, {"f": 0, "f2": 20, "v": 0.008, "v2": 0.008}, {"f": 0, "f2": 20, "v": 0.009, "v2": 0.009},
   {"f": 0, "f2": 20, "v": 0.01, "v2": 0.01}, {"f": 0, "f2": 20, "v": 0.02, "v2": 0.02}, {"f": 0, "f2": 20, "v": 0.03, "v2": 0.03}, {"f": 0, "f2": 20, "v": 0.04, "v2": 0.04}, {"f": 0, "f2": 20, "v": 0.05, "v2": 0.05}, {"f": 0, "f2": 20, "v": 0.06, "v2": 0.06}, {"f": 0, "f2": 20, "v": 0.07, "v2": 0.07}, {"f": 0, "f2": 20, "v": 0.08, "v2": 0.08}, {"f": 0, "f2": 20, "v": 0.09, "v2": 0.09},
   {"f": 0, "f2": 20, "v": 0.1, "v2": 0.1}, {"f": 0, "f2": 20, "v": 0.2, "v2": 0.2}, {"f": 0, "f2": 20, "v": 0.3, "v2": 0.3}, {"f": 0, "f2": 20, "v": 0.4, "v2": 0.4}, {"f": 0, "f2": 20, "v": 0.5, "v2": 0.5}, {"f": 0, "f2": 20, "v": 0.6, "v2": 0.6}, {"f": 0, "f2": 20, "v": 0.7, "v2": 0.7}, {"f": 0, "f2": 20, "v": 0.8, "v2": 0.8}, {"f": 0, "f2": 20, "v": 0.9, "v2": 0.9},
   {"f": 0, "f2": 20, "v": 1, "v2": 1}, {"f": 0, "f2": 20, "v": 2, "v2": 2}, {"f": 0, "f2": 20, "v": 3, "v2": 3}, {"f": 0, "f2": 20, "v": 4, "v2": 4}, {"f": 0, "f2": 20, "v": 5, "v2": 5}, {"f": 0, "f2": 20, "v": 6, "v2": 6}, {"f": 0, "f2": 20, "v": 7, "v2": 7}, {"f": 0, "f2": 20, "v": 8, "v2": 8}, {"f": 0, "f2": 20, "v": 9, "v2": 9},
   {"f": 0, "f2": 20, "v": 10, "v2": 10}, {"f": 0, "f2": 20, "v": 20, "v2": 20}, {"f": 0, "f2": 20, "v": 30, "v2": 30}, {"f": 0, "f2": 20, "v": 40, "v2": 40}, {"f": 0, "f2": 20, "v": 50, "v2": 50}, {"f": 0, "f2": 20, "v": 60, "v2": 60}, {"f": 0, "f2": 20, "v": 70, "v2": 70}, {"f": 0, "f2": 20, "v": 80, "v2": 80}, {"f": 0, "f2": 20, "v": 90, "v2": 90}, {"f": 0, "f2": 20, "v": 100, "v2": 100},
   {"f": 0, "f2": 0, "v": 100, "v2": 0.0001}, {"f": 2, "f2": 2, "v": 100, "v2": 0.0001}, {"f": 4, "f2": 4, "v": 100, "v2": 0.0001}, {"f": 6, "f2": 6, "v": 100, "v2": 0.0001}, {"f": 8, "f2": 8, "v": 100, "v2": 0.0001}, {"f": 10, "f2": 10, "v": 100, "v2": 0.0001}, {"f": 12, "f2": 12, "v": 100, "v2": 0.0001}, {"f": 14, "f2": 14, "v": 100, "v2": 0.0001}, {"f": 16, "f2": 16, "v": 100, "v2": 0.0001}, {"f": 18, "f2": 18, "v": 100, "v2": 0.0001}, {"f": 20, "f2": 20, "v": 100, "v2": 0.0001}
  ]}, "mark": {"type": "rule", "color": "#747474", "strokeWidth": 1}, "encoding": {"x2": {"field": "f2"}, "y2": {"field": "v2"}}},
  {"data": {"values": [{"f": 0, "v": 52.5}, {"f": 0.4, "v": 45.5}, {"f": 0.836, "v": 38.5}, {"f": 1.1, "v": 31.5}, {"f": 1.418, "v": 23}, {"f": 1.7, "v": 15.5}, {"f": 1.976, "v": 10.4}, {"f": 2.3, "v": 7.2}, {"f": 2.578, "v": 5.1}, {"f": 2.8, "v": 3.6}, {"f": 3.045, "v": 2.44}, {"f": 3.3, "v": 1.5}, {"f": 3.509, "v": 0.95}, {"f": 3.75, "v": 0.58}, {"f": 3.972, "v": 0.34}, {"f": 4.15, "v": 0.2}, {"f": 4.3, "v": 0.129}, {"f": 4.495, "v": 0.0506}, {"f": 4.669, "v": 0.02}, {"f": 4.808, "v": 0.0103}, {"f": 4.902, "v": 0.00537}, {"f": 4.983, "v": 0.00275}, {"f": 5.024, "v": 0.0019}, {"f": 5.11, "v": 0.0019}, {"f": 5.11, "v": 0.0001}, {"f": 20, "v": 0.0001}]}, "mark": {"type": "line", "color": "#c82ec8", "strokeWidth": 1.5}, "encoding": {"order": {"value": null}}},
  {"data": {"values": [{"f": 0, "v": 36.8}, {"f": 0.5, "v": 32.6}, {"f": 1, "v": 28.4}, {"f": 1.5, "v": 24.3}, {"f": 2, "v": 20.5}, {"f": 2.5, "v": 16.9}, {"f": 3, "v": 13.6}, {"f": 3.5, "v": 10.7}, {"f": 4, "v": 8.1}, {"f": 4.5, "v": 5.97}, {"f": 5, "v": 4.23}, {"f": 5.5, "v": 2.88}, {"f": 6, "v": 1.87}, {"f": 6.5, "v": 1.15}, {"f": 7, "v": 0.666}, {"f": 7.5, "v": 0.361}, {"f": 8, "v": 0.182}, {"f": 8.5, "v": 0.0843}, {"f": 9, "v": 0.0355}, {"f": 9.5, "v": 0.0135}, {"f": 10, "v": 0.00454}, {"f": 10.5, "v": 0.00134}, {"f": 11, "v": 0.00034}, {"f": 11.2, "v": 0.00019}, {"f": 11.41, "v": 0.0001}]}, "mark": {"type": "line", "color": "#3cc8c8", "strokeWidth": 1.5}},
  {"data": {"values": [{"f": 0, "v": 40.4}, {"f": 0.4, "v": 35.0}, {"f": 0.836, "v": 30.1}, {"f": 1.4, "v": 25.8}, {"f": 1.976, "v": 21.9}, {"f": 2.4, "v": 17.5}, {"f": 2.812, "v": 14.0}, {"f": 3.3, "v": 11.5}, {"f": 3.742, "v": 9.5}, {"f": 4.3, "v": 6.0}, {"f": 4.902, "v": 2.93}, {"f": 5.484, "v": 1.67}, {"f": 5.983, "v": 0.87}, {"f": 6.25, "v": 0.56}, {"f": 6.53, "v": 0.34}, {"f": 6.75, "v": 0.19}, {"f": 6.878, "v": 0.129}, {"f": 6.993, "v": 0.1}, {"f": 7.226, "v": 0.0506}, {"f": 7.575, "v": 0.02}, {"f": 7.899, "v": 0.0103}, {"f": 7.979, "v": 0.0059}, {"f": 8.014, "v": 0.00305}, {"f": 8.213, "v": 0.00174}, {"f": 8.293, "v": 0.0009}, {"f": 8.352, "v": 0.00047}, {"f": 8.362, "v": 0.0001}]}, "mark": {"type": "line", "color": "#e6e640", "strokeWidth": 1.5}},
  {"data": {"values": [{"f": -1.484, "v": 153.7, "t": "Gaussian"}]}, "mark": {"type": "text", "align": "left", "baseline": "middle", "fontSize": 13.5, "fill": "#2ec4c4"}, "encoding": {"text": {"field": "t"}}},
  {"data": {"values": [{"f": 0.955, "v": 153.7, "t": "Reference"}]}, "mark": {"type": "text", "align": "left", "baseline": "middle", "fontSize": 13.5, "fill": "#c83cc8"}, "encoding": {"text": {"field": "t"}}},
  {"data": {"values": [{"f": -0.045, "v": 100, "t": "100 %"}, {"f": -0.045, "v": 10, "t": "10 %"}, {"f": -0.045, "v": 1, "t": "1 %"}, {"f": -0.045, "v": 0.1, "t": "0.1 %"}, {"f": -0.045, "v": 0.01, "t": "0.01 %"}, {"f": -0.045, "v": 0.001, "t": "0.001 %"}, {"f": -0.045, "v": 0.000118, "t": "0.0001 %"}]}, "mark": {"type": "text", "align": "right", "baseline": "middle", "fontSize": 12.5, "fill": "#9a9a9a"}, "encoding": {"text": {"field": "t"}}},
  {"data": {"values": [{"f": -1.892, "v": 0.0000755, "t": "0.00 dB"}, {"f": -1.892, "v": 0.0000469, "t": "Info BW 1.0000 MHz"}]}, "mark": {"type": "text", "align": "left", "baseline": "middle", "fontSize": 13.5, "fill": "#e0e0e0"}, "encoding": {"text": {"field": "t"}}},
  {"data": {"values": [{"f": 19.986, "v": 0.0000755, "t": "20.00 dB"}]}, "mark": {"type": "text", "align": "right", "baseline": "middle", "fontSize": 13.5, "fill": "#e0e0e0"}, "encoding": {"text": {"field": "t"}}}
 ]
}
]
}
